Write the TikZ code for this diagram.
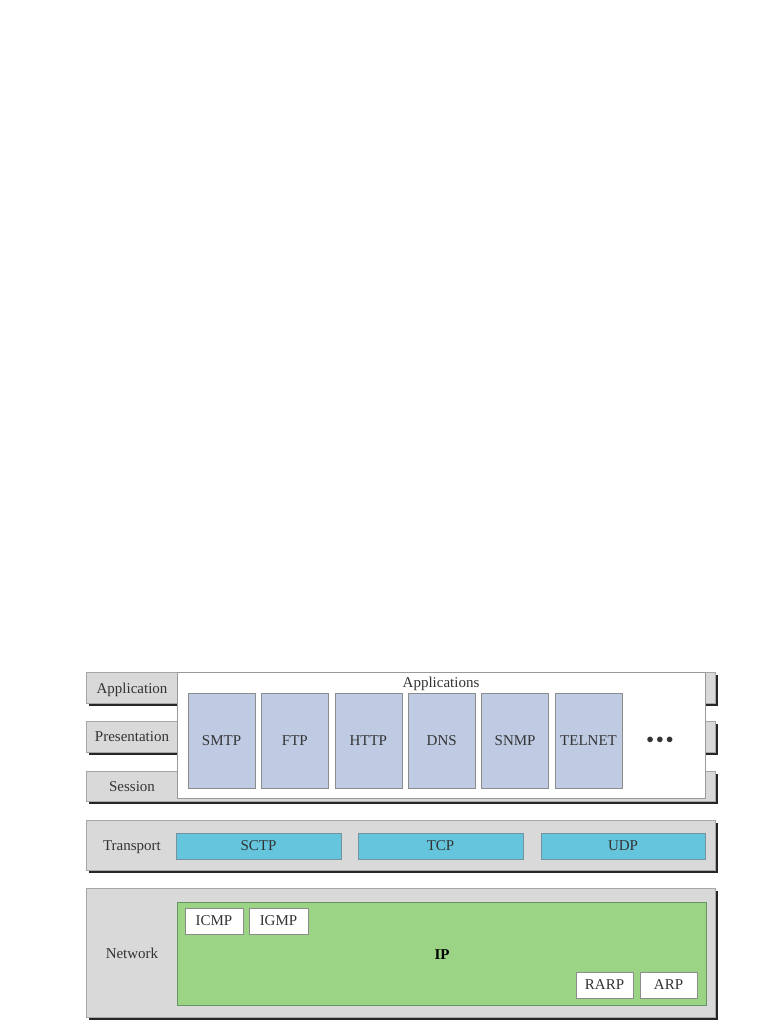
\documentclass[tikz,border=0pt]{standalone}
\usepackage{fontspec}
\setmainfont{Liberation Serif}
\usepackage{tikz}
\usetikzlibrary{shadows}

\definecolor{layergray}{HTML}{D9D9D9}
\definecolor{appblue}{HTML}{BFCBE3}
\definecolor{transcyan}{HTML}{64C5DD}
\definecolor{netgreen}{HTML}{9CD485}

\begin{document}
\begin{tikzpicture}[x=1pt,y=-1pt,
    every node/.style={font=\fontsize{15}{17}\selectfont, text=black!80, inner sep=0pt, outer sep=0pt, text depth=0pt},
    layer/.style={draw=black!35, fill=layergray, anchor=north west,
      general shadow={fill=black!85, shadow xshift=2.5pt, shadow yshift=-2.5pt}},
    appbox/.style={draw=black!45, fill=appblue, anchor=north west, minimum width=67pt, minimum height=95pt},
    protobox/.style={draw=cyan!40!black!70, fill=transcyan, anchor=north west, minimum height=26pt},
    smallbox/.style={draw=black!45, fill=white, anchor=north west, minimum height=26pt}]
  \useasboundingbox (0,0) rectangle (768,1024);

  % layers
  \node[layer, minimum width=629pt, minimum height=31pt] (application) at (86,672) {};
  \node[layer, minimum width=629pt, minimum height=31pt] (presentation) at (86,721) {};
  \node[layer, minimum width=629pt, minimum height=30pt] (session) at (86,771) {};
  \node[layer, minimum width=629pt, minimum height=50pt] (transport) at (86,820) {};
  \node[layer, minimum width=629pt, minimum height=129pt] (network) at (86,888) {};

  \node (applbl) at (132,688) {Application};
  \node (preslbl) at (132,737) {Presentation};
  \node (sesslbl) at (132,787) {Session};
  \node (translbl) at (132,846) {Transport};
  \node (netlbl) at (132,953) {Network};

  % applications
  \node[draw=black!40, fill=white, anchor=north west, minimum width=528pt, minimum height=126pt] (apps) at (177,672) {};
  \node (appslbl) at (441,682) {Applications};
  \foreach \name [count=\i from 0] in {SMTP,FTP,HTTP,DNS,SNMP,TELNET}
    \node[appbox] (\name) at ({188+73.4*\i},693) {\name};
  \node (dots) at (660,740) {$\bullet$\,$\bullet$\,$\bullet$};

  % transport
  \node[protobox, minimum width=165pt] (sctp) at (176,833) {SCTP};
  \node[protobox, minimum width=165pt] (tcp) at (358,833) {TCP};
  \node[protobox, minimum width=164pt] (udp) at (541,833) {UDP};

  % network
  \node[draw=green!30!black!60, fill=netgreen, anchor=north west, minimum width=529pt, minimum height=103pt] (ipbox) at (177,902) {};
  \node[font=\fontsize{15}{17}\selectfont\bfseries, text=black] (ip) at (442,955) {IP};
  \node[smallbox, minimum width=58pt] (icmp) at (185,908) {ICMP};
  \node[smallbox, minimum width=59pt] (igmp) at (249,908) {IGMP};
  \node[smallbox, minimum width=57pt] (rarp) at (576,972) {RARP};
  \node[smallbox, minimum width=57pt] (arp) at (640,972) {ARP};
\end{tikzpicture}
\end{document}
